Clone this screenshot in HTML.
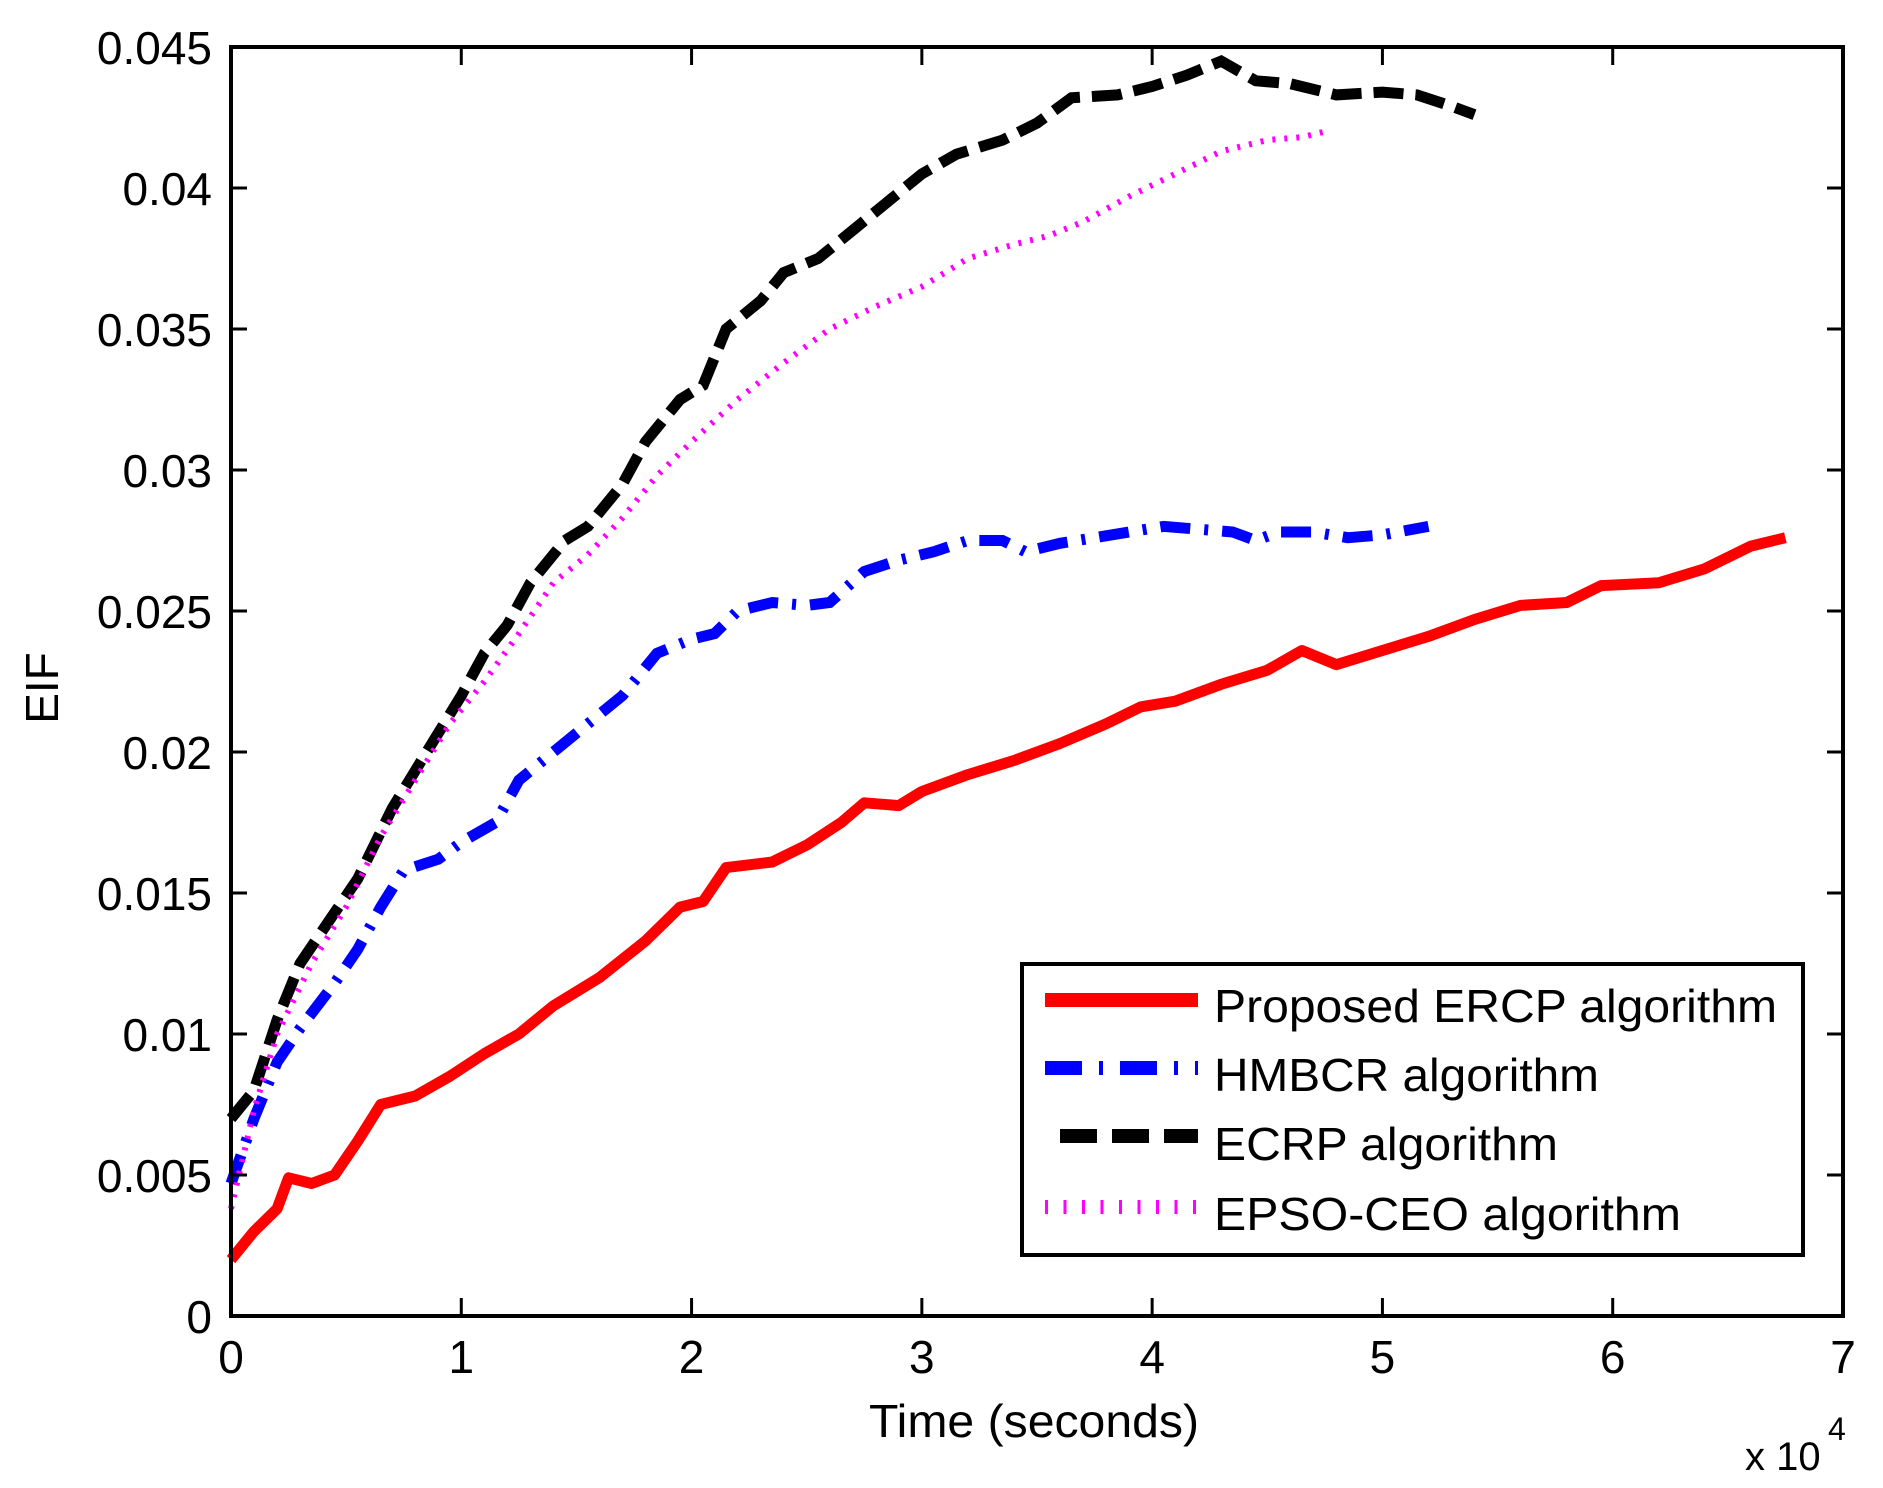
<!DOCTYPE html>
<html><head><meta charset="utf-8"><style>html,body{margin:0;padding:0;background:#fff;}svg{display:block}</style></head>
<body>
<svg id="s" width="1883" height="1488" xmlns="http://www.w3.org/2000/svg" font-family="Liberation Sans, sans-serif">
<rect width="1883" height="1488" fill="#fff"/>
<g id="series"></g>
<rect x="231" y="47" width="1612" height="1269" fill="none" stroke="#000" stroke-width="4"/>
<g id="ticks" stroke="#000" stroke-width="3"></g>
<g id="labels" font-size="46" fill="#000"></g>
<text x="869" y="1437" font-size="46" textLength="330" lengthAdjust="spacingAndGlyphs">Time (seconds)</text>
<text x="1745" y="1470" font-size="40">x 10</text>
<text x="1828" y="1440" font-size="32">4</text>
<text transform="translate(58,688) rotate(-90)" font-size="46" text-anchor="middle">EIF</text>
<rect x="1022" y="964" width="781" height="291" fill="#fff" stroke="#000" stroke-width="4"/>
<line x1="1045" y1="1000" x2="1198" y2="1000" stroke="#f00" stroke-width="14"/>
<line x1="1045" y1="1068" x2="1198" y2="1068" stroke="#00f" stroke-width="14" stroke-dasharray="37 17 4 17 37 17 4 17 37"/>
<line x1="1060" y1="1136" x2="1198" y2="1136" stroke="#000" stroke-width="14" stroke-dasharray="37 15"/>
<line x1="1045" y1="1207" x2="1198" y2="1207" stroke="#f0f" stroke-width="14" stroke-dasharray="3 15.5"/>
<g font-size="46" lengthAdjust="spacingAndGlyphs">
<text x="1214" y="1022" textLength="563" lengthAdjust="spacingAndGlyphs">Proposed ERCP algorithm</text>
<text x="1214" y="1091" textLength="385" lengthAdjust="spacingAndGlyphs">HMBCR algorithm</text>
<text x="1214" y="1160" textLength="344" lengthAdjust="spacingAndGlyphs">ECRP algorithm</text>
<text x="1214" y="1230" textLength="467" lengthAdjust="spacingAndGlyphs">EPSO-CEO algorithm</text>
</g>
</svg>
<script>
var L=231,R=1843,T=47,B=1316;
function X(x){return L+x*(R-L)/7;}
function Y(y){return B-y*(B-T)/45;}
var ns="http://www.w3.org/2000/svg";
var tk=document.getElementById('ticks'),lb=document.getElementById('labels');
function el(p,n,a,t){var e=document.createElementNS(ns,n);for(var k in a)e.setAttribute(k,a[k]);if(t!==undefined)e.textContent=t;p.appendChild(e);return e;}
for(var i=0;i<=7;i++){var x=X(i);
 el(tk,'line',{x1:x,y1:B,x2:x,y2:B-18});el(tk,'line',{x1:x,y1:T,x2:x,y2:T+18});
 el(lb,'text',{x:x,y:1373,'text-anchor':'middle'},String(i));}
var yl=['0','0.005','0.01','0.015','0.02','0.025','0.03','0.035','0.04','0.045'];
for(var j=0;j<=9;j++){var y=Y(j*5);
 el(tk,'line',{x1:L,y1:y,x2:L+16,y2:y});el(tk,'line',{x1:R,y1:y,x2:R-16,y2:y});
 el(lb,'text',{x:212,y:y+17,'text-anchor':'end'},yl[j]);}
var red=[[0,2],[0.1,3],[0.2,3.8],[0.25,4.9],[0.35,4.7],[0.45,5],[0.55,6.2],[0.65,7.5],[0.8,7.8],[0.95,8.5],[1.1,9.3],[1.25,10],[1.4,11],[1.6,12],[1.8,13.3],[1.95,14.5],[2.05,14.7],[2.15,15.9],[2.35,16.1],[2.5,16.7],[2.65,17.5],[2.75,18.2],[2.9,18.1],[3.0,18.6],[3.2,19.2],[3.4,19.7],[3.6,20.3],[3.8,21],[3.95,21.6],[4.1,21.8],[4.3,22.4],[4.5,22.9],[4.65,23.6],[4.8,23.1],[5.0,23.6],[5.2,24.1],[5.4,24.7],[5.6,25.2],[5.8,25.3],[5.95,25.9],[6.2,26],[6.4,26.5],[6.6,27.3],[6.75,27.6]];
var blue=[[0,4.7],[0.1,7],[0.2,9],[0.3,10.2],[0.45,11.8],[0.55,13],[0.65,14.5],[0.75,15.8],[0.9,16.2],[1.0,16.8],[1.15,17.5],[1.25,19],[1.4,20],[1.55,21],[1.7,22],[1.85,23.5],[2.0,24],[2.1,24.2],[2.2,25],[2.35,25.3],[2.5,25.2],[2.6,25.3],[2.75,26.4],[2.9,26.8],[3.05,27.1],[3.2,27.5],[3.35,27.5],[3.45,27.1],[3.6,27.4],[3.75,27.6],[3.9,27.8],[4.05,28],[4.2,27.9],[4.35,27.8],[4.45,27.5],[4.55,27.8],[4.7,27.8],[4.85,27.6],[5.0,27.7],[5.2,28]];
var black=[[0,7],[0.1,8],[0.2,10.5],[0.3,12.5],[0.45,14.3],[0.55,15.5],[0.7,18],[0.85,20],[1.0,22],[1.1,23.5],[1.2,24.5],[1.3,26],[1.45,27.5],[1.55,28],[1.7,29.5],[1.8,31],[1.95,32.5],[2.05,33],[2.15,35],[2.3,36],[2.4,37],[2.55,37.5],[2.7,38.5],[2.85,39.5],[3.0,40.5],[3.15,41.2],[3.35,41.7],[3.5,42.3],[3.65,43.2],[3.85,43.3],[4.0,43.6],[4.15,44],[4.3,44.5],[4.45,43.8],[4.6,43.7],[4.8,43.3],[5.0,43.4],[5.15,43.3],[5.3,42.9],[5.4,42.6]];
var mag=[[0,3.8],[0.1,7.3],[0.2,10],[0.35,12.5],[0.5,14.5],[0.65,17],[0.8,19],[0.95,21],[1.1,22.5],[1.25,24.2],[1.4,26],[1.55,27],[1.7,28.3],[1.85,29.8],[2.0,31],[2.2,32.5],[2.4,33.8],[2.6,35],[2.8,35.8],[3.0,36.5],[3.2,37.5],[3.4,38],[3.55,38.3],[3.7,38.8],[3.9,39.7],[4.1,40.5],[4.3,41.3],[4.5,41.7],[4.65,41.8],[4.75,42]];
function d(a){return a.map(function(p,i){return (i?'L':'M')+X(p[0]).toFixed(1)+' '+Y(p[1]).toFixed(1);}).join('');}
var g=document.getElementById('series');
el(g,'path',{d:d(red),fill:'none',stroke:'#f00','stroke-width':11,'stroke-linejoin':'round'});
el(g,'path',{d:d(blue),fill:'none',stroke:'#00f','stroke-width':11,'stroke-dasharray':'30 14 4 14'});
el(g,'path',{d:d(black),fill:'none',stroke:'#000','stroke-width':11,'stroke-dasharray':'30 12'});
el(g,'path',{d:d(mag),fill:'none',stroke:'#f0f','stroke-width':6,'stroke-dasharray':'3 9'});
</script>
</body></html>
